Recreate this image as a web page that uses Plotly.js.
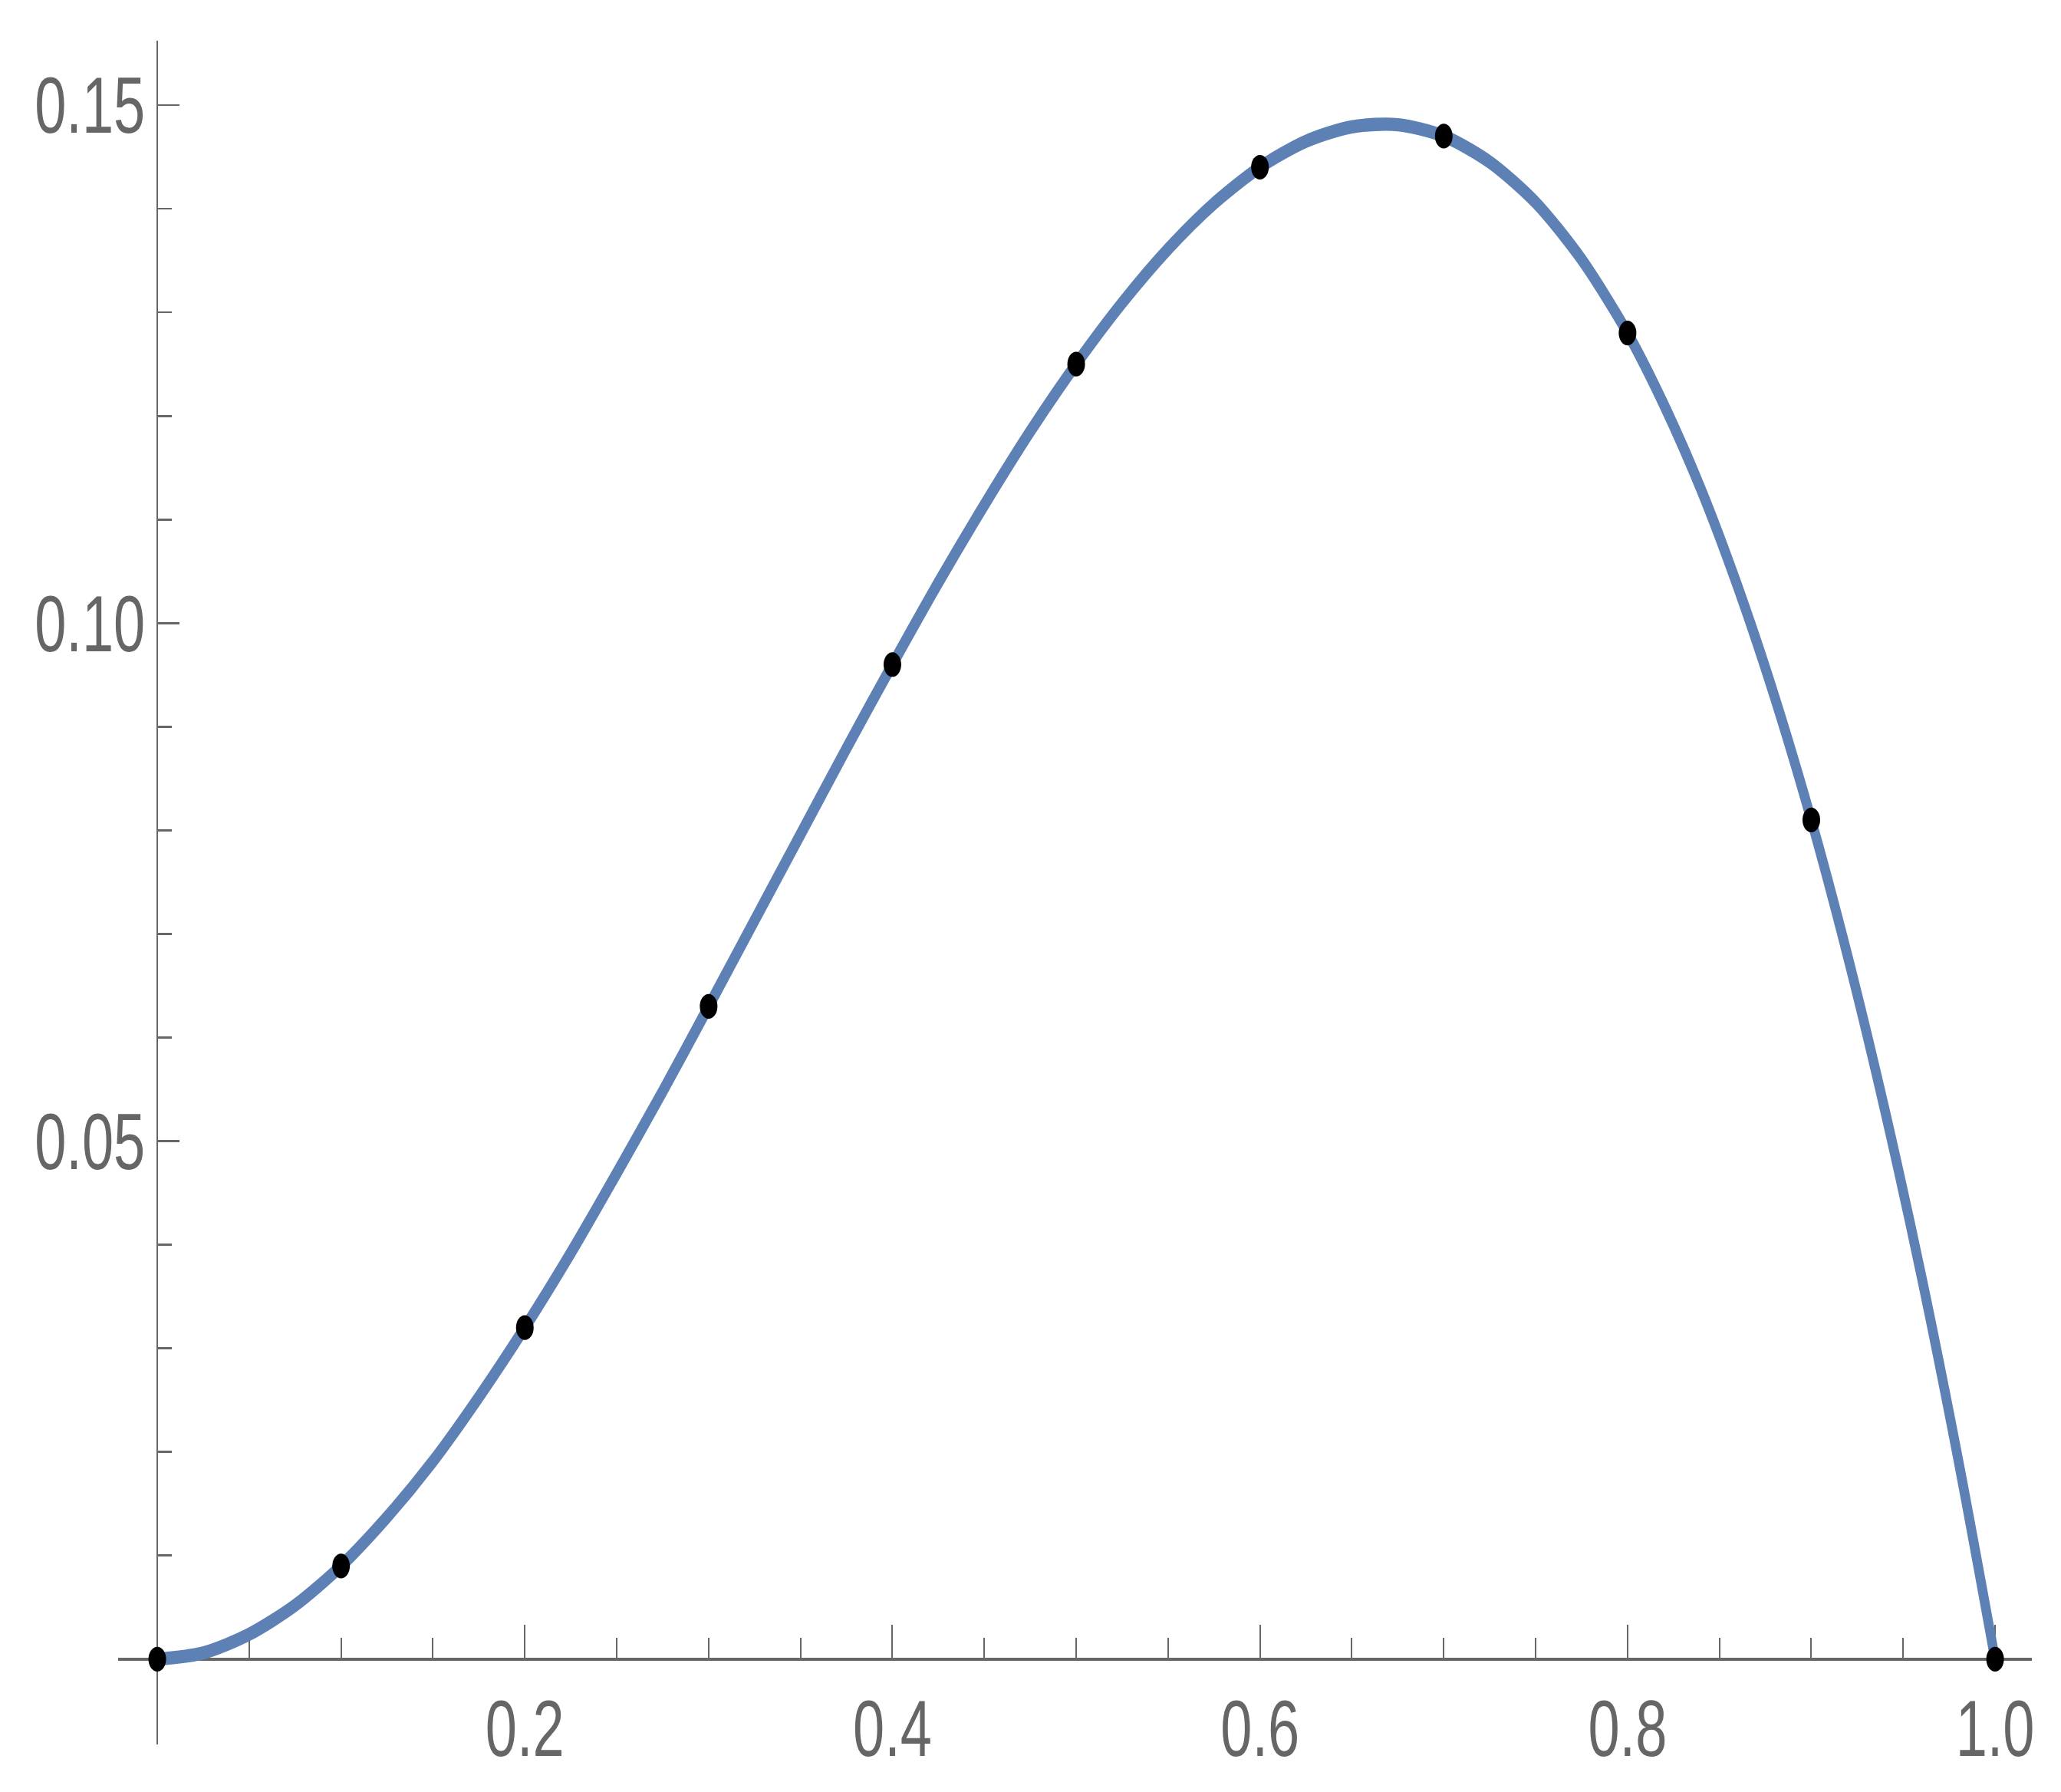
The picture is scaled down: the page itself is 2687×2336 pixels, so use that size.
<!DOCTYPE html>
<html>
<head>
<meta charset="utf-8">
<script src="https://cdn.plot.ly/plotly-3.0.1.min.js"></script>
<style>
  html, body { margin: 0; padding: 0; background: #ffffff; }
  #wrap { position: relative; width: 2687px; height: 2336px; overflow: visible; }
  #plot { position: absolute; left: 0; top: 0; width: 2687px; height: 1669px; transform: scaleY(1.4); transform-origin: 0 0; }
</style>
</head>
<body>
<div id="wrap"><div id="plot"></div></div>
<script>
// Curve values
const curveX = [0, 0.025, 0.05, 0.075, 0.1, 0.125, 0.15, 0.175, 0.2, 0.225, 0.25, 0.275, 0.3, 0.325, 0.35, 0.375,
  0.4, 0.425, 0.45, 0.475, 0.5, 0.525, 0.55, 0.575, 0.6, 0.625, 0.65, 0.675, 0.7, 0.725, 0.75, 0.775,
  0.8, 0.82, 0.84, 0.86, 0.88, 0.9, 0.92, 0.94, 0.96, 0.98, 1.0];
const curveY = [0, 0.0006, 0.0024, 0.0052, 0.009, 0.0137, 0.0191, 0.0253, 0.032, 0.0392, 0.0469, 0.0548, 0.063, 0.0713, 0.0796, 0.0879,
  0.096, 0.1039, 0.1114, 0.1185, 0.125, 0.1309, 0.1361, 0.1405, 0.144, 0.1465, 0.1479, 0.1481, 0.147, 0.1445, 0.1406, 0.1351,
  0.128, 0.121, 0.1129, 0.1035, 0.0929, 0.081, 0.0677, 0.053, 0.0369, 0.0192, 0];

// Sample points (black dots)
const pointX = [0, 0.1, 0.2, 0.3, 0.4, 0.5, 0.6, 0.7, 0.8, 0.9, 1.0];
const pointY = [0, 0.009, 0.032, 0.063, 0.096, 0.125, 0.144, 0.147, 0.128, 0.081, 0];

// Tick labels
const xTickVals = [0.2, 0.4, 0.6, 0.8, 1.0];
const xTickText = ['0.2', '0.4', '0.6', '0.8', '1.0'];
const yTickVals = [0.05, 0.10, 0.15];
const yTickText = ['0.05', '0.10', '0.15'];

const xRange = [-0.0213, 1.020];
const yRange = [-0.0082, 0.1562];

const axisColor = '#666666';
const font = { family: 'Liberation Sans, Arial, sans-serif', size: 74, color: '#666666' };

const traces = [
  {
    x: curveX, y: curveY, type: 'scatter', mode: 'lines',
    line: { color: '#5e81b5', width: 12.4, shape: 'spline', smoothing: 0.8 },
    hoverinfo: 'skip'
  },
  {
    x: pointX, y: pointY, type: 'scatter', mode: 'markers',
    marker: { color: '#000000', size: 23, line: { width: 0 } },
    hoverinfo: 'skip'
  }
];

const layout = {
  width: 2687, height: 1669,
  margin: { l: 154, r: 38, t: 38, b: 45, pad: 0 },
  paper_bgcolor: '#ffffff', plot_bgcolor: '#ffffff',
  showlegend: false,
  font: font,
  xaxis: {
    range: xRange, anchor: 'free',
    position: (0 - yRange[0]) / (yRange[1] - yRange[0]),
    showline: true, linecolor: axisColor, linewidth: 2.2,
    showgrid: false, zeroline: false,
    tickmode: 'array', tickvals: xTickVals, ticktext: xTickText,
    ticks: 'inside', ticklen: 31, tickwidth: 2, tickcolor: axisColor,
    minor: { tickmode: 'linear', tick0: 0, dtick: 0.05, ticks: 'inside', ticklen: 19, tickwidth: 2, tickcolor: axisColor, showgrid: false },
    tickfont: font,
    layer: 'below traces'
  },
  yaxis: {
    range: yRange, anchor: 'free',
    position: (0 - xRange[0]) / (xRange[1] - xRange[0]),
    showline: true, linecolor: axisColor, linewidth: 2.2,
    showgrid: false, zeroline: false,
    tickmode: 'array', tickvals: yTickVals, ticktext: yTickText,
    ticks: 'inside', ticklen: 28, tickwidth: 2, tickcolor: axisColor,
    minor: { tickmode: 'linear', tick0: 0, dtick: 0.01, ticks: 'inside', ticklen: 18, tickwidth: 2, tickcolor: axisColor, showgrid: false },
    tickfont: font,
    layer: 'below traces'
  }
};

Plotly.newPlot('plot', traces, layout, { staticPlot: true, displayModeBar: false });
</script>
</body>
</html>
